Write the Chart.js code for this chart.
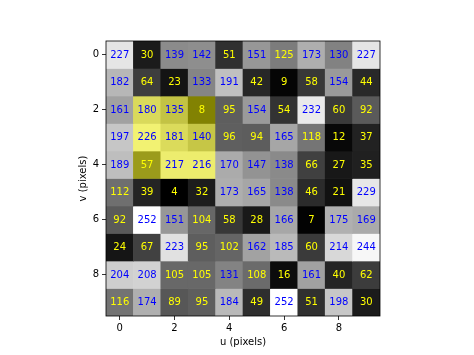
<!DOCTYPE html>
<html>
<head>
<meta charset="utf-8">
<script src="https://cdn.jsdelivr.net/npm/chart.js@4/dist/chart.umd.min.js"></script>
<style>
html,body{margin:0;padding:0;background:#fff;}
canvas{display:block;}
</style>
</head>
<body>
<canvas id="c" width="474" height="355"></canvas>
<script>
// ---- data ----
const colIndex = [0,1,2,3,4,5,6,7,8,9];
const rowIndex = [0,1,2,3,4,5,6,7,8,9];
const row0 = [227,30,139,142,51,151,125,173,130,227];
const row1 = [182,64,23,133,191,42,9,58,154,44];
const row2 = [161,180,135,8,95,154,54,232,60,92];
const row3 = [197,226,181,140,96,94,165,118,12,37];
const row4 = [189,57,217,216,170,147,138,66,27,35];
const row5 = [112,39,4,32,173,165,138,46,21,229];
const row6 = [92,252,151,104,58,28,166,7,175,169];
const row7 = [24,67,223,95,102,162,185,60,214,244];
const row8 = [204,208,105,105,131,108,16,161,40,62];
const row9 = [116,174,89,95,184,49,252,51,198,30];
const values = [row0,row1,row2,row3,row4,row5,row6,row7,row8,row9];
const highlightRows = [2,3,4];
const highlightCols = [1,2,3];
const xTicks = [0,2,4,6,8];
const yTicks = [0,2,4,6,8];
const xTitle = 'u (pixels)';
const yTitle = 'v (pixels)';

// ---- colours ----
const all = values.flat();
const vmin = Math.min(...all), vmax = Math.max(...all);
function cellColor(v, r, c) {
  let g = Math.round((v - vmin) / (vmax - vmin) * 255);
  if (highlightRows.includes(r) && highlightCols.includes(c)) {
    const a = 0.5;
    const R = Math.round(g*(1-a) + 255*a), B = Math.round(g*(1-a));
    return `rgb(${R},${R},${B})`;
  }
  return `rgb(${g},${g},${g})`;
}

const datasets = rowIndex.map(r => ({
  data: colIndex.map(c => ({x: c, y: [r - 0.5, r + 0.5]})),
  backgroundColor: colIndex.map(c => cellColor(values[r][c], r, c)),
  borderWidth: 0,
  barPercentage: 1,
  categoryPercentage: 1,
  grouped: false
}));

const textPlugin = {
  id: 'cellText',
  afterDatasetsDraw(chart) {
    const {ctx, scales: {x, y}} = chart;
    ctx.save();
    ctx.font = '10px "DejaVu Sans"';
    ctx.textAlign = 'center';
    ctx.textBaseline = 'middle';
    rowIndex.forEach(r => colIndex.forEach(c => {
      const v = values[r][c];
      ctx.fillStyle = v > 127 ? '#0000ff' : '#ffff00';
      ctx.fillText(String(v), x.getPixelForValue(c), y.getPixelForValue(r) + 0.5);
    }));
    ctx.restore();
  },
  afterDraw(chart) {
    const {ctx, chartArea: a} = chart;
    ctx.save();
    ctx.strokeStyle = '#000';
    ctx.lineWidth = 0.8;
    ctx.strokeRect(a.left, a.top, a.right - a.left, a.bottom - a.top);
    ctx.restore();
  }
};

const tickFont = {family: '"DejaVu Sans"', size: 10};
new Chart(document.getElementById('c'), {
  type: 'bar',
  data: {datasets},
  options: {
    responsive: false,
    animation: false,
    layout: {padding: {left: 60, top: 41, right: 94, bottom: 0}},
    plugins: {legend: {display: false}, tooltip: {enabled: false}},
    scales: {
      x: {
        type: 'linear', min: -0.5, max: 9.5, offset: false,
        afterBuildTicks: s => { s.ticks = xTicks.map(v => ({value: v})); },
        afterFit: s => { s.height = 39; },
        ticks: {color: '#000', font: tickFont, padding: 2, maxRotation: 0, callback: v => String(v)},
        grid: {offset: false, drawOnChartArea: false, drawTicks: true, tickLength: 4, color: '#000', lineWidth: 0.8},
        border: {display: false},
        title: {display: true, text: xTitle, color: '#000', font: tickFont, padding: {top: 0, bottom: 7}}
      },
      y: {
        type: 'linear', min: -0.5, max: 9.5, reverse: true, offset: false,
        afterBuildTicks: s => { s.ticks = yTicks.map(v => ({value: v})); },
        afterFit: s => { s.width = 46; },
        ticks: {color: '#000', font: tickFont, padding: 3, callback: v => String(v)},
        grid: {offset: false, drawOnChartArea: false, drawTicks: true, tickLength: 4, color: '#000', lineWidth: 0.8},
        border: {display: false},
        title: {display: true, text: yTitle, color: '#000', font: tickFont, padding: {top: 17, bottom: 0}}
      }
    }
  },
  plugins: [textPlugin]
});
</script>
</body>
</html>
